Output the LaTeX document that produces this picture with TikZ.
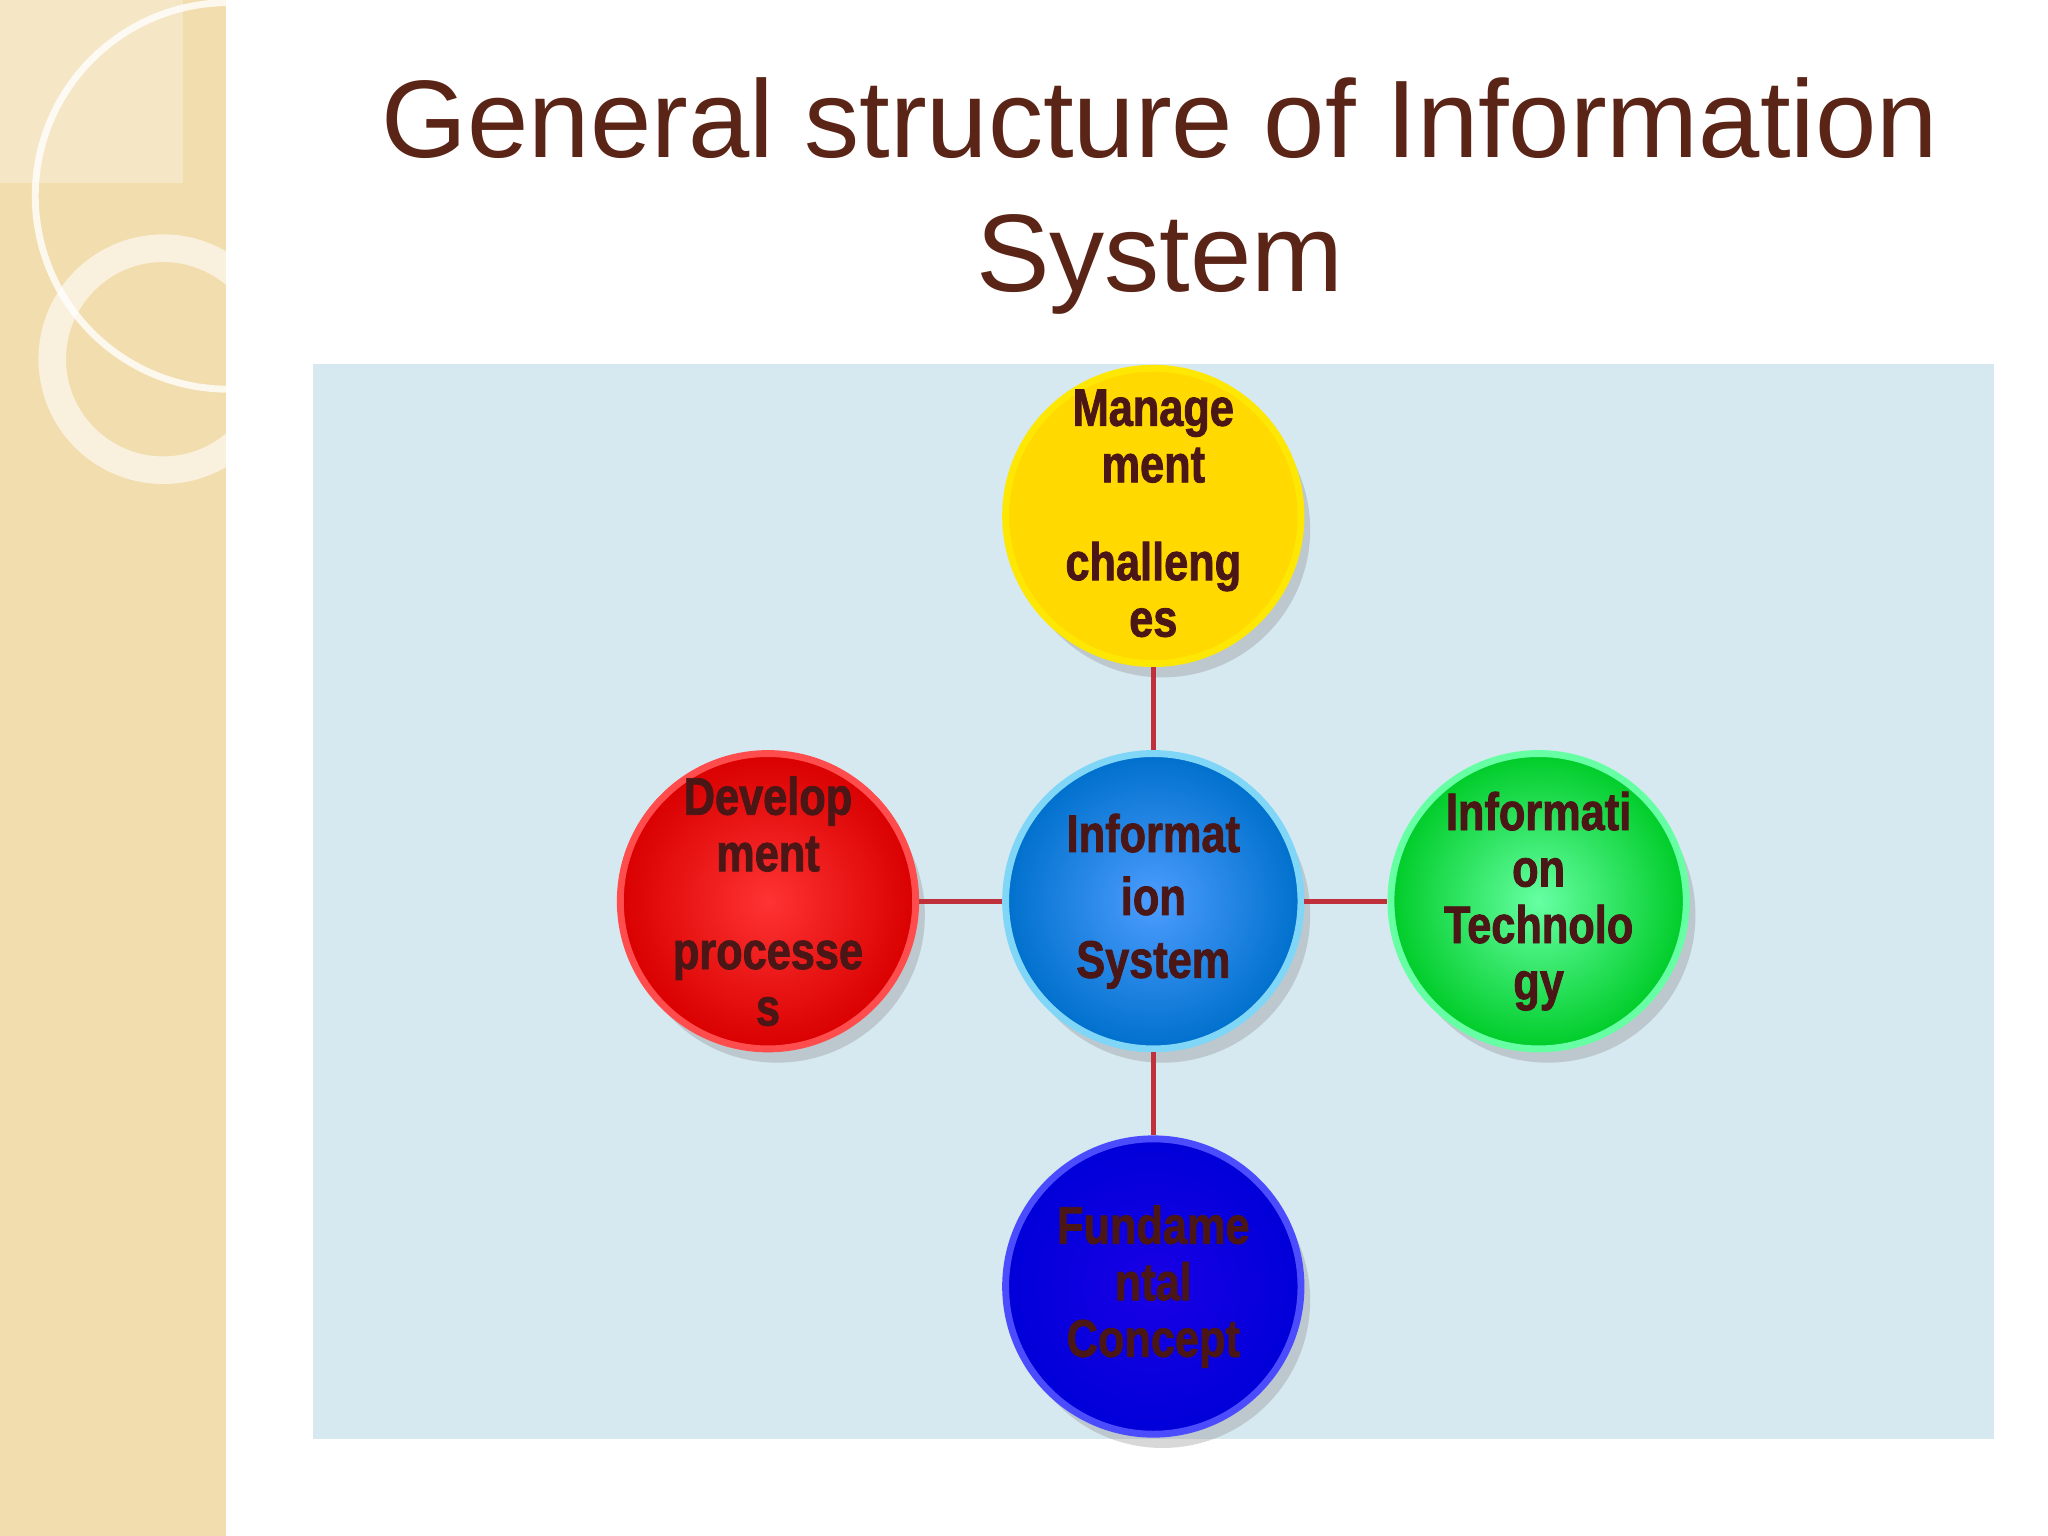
\documentclass[tikz,border=0pt]{standalone}
\usepackage{fontspec}
\setmainfont{Liberation Sans}
\newfontfamily\impactf[FakeStretch=0.82,FakeBold=1.5]{Liberation Sans Bold}
\usetikzlibrary{shadows}
\definecolor{titlec}{HTML}{5A2416}
\definecolor{txtc}{HTML}{4A1616}
\definecolor{panel}{HTML}{D6E8F0}
\definecolor{strip}{HTML}{F2DDAE}
\definecolor{linec}{HTML}{C0303A}
\tikzset{
  bub/.style={circle,minimum size=2.26cm,inner sep=0pt,line width=1.5pt,
    drop shadow={shadow xshift=2pt,shadow yshift=-3pt,opacity=0.3}},
  conn/.style={draw=linec,line width=1.1pt},
  btxt/.style={text=txtc,align=center,font=\impactf\fontsize{11.5}{12.3}\selectfont}
}
\begin{document}
\begin{tikzpicture}[x=0.01cm,y=-0.01cm]
\useasboundingbox (0,0) rectangle (1568,1176);
\fill[white] (0,0) rectangle (1568,1176);
\fill[strip] (0,0) rectangle (173,1176);
\begin{scope}
\clip (0,0) rectangle (173,1176);
\fill[white,opacity=0.3] (0,0) rectangle (140,140);
\draw[white,opacity=0.8,line width=1.5pt] (175,150) circle (148);
\draw[white,opacity=0.6,line width=6pt] (125,275) circle (85);
\end{scope}
\node[text=titlec,font=\fontsize{24}{29}\selectfont,align=center] (title) at (888,150)
  {General structure of Information\\System};
\fill[panel] (240,279) rectangle (1527,1102);
\coordinate (c) at (883,690);
\node[bub,shading=radial,inner color=yellow!70!orange,outer color=orange!30!yellow,draw=yellow!90!orange] (top) at (883,395) {};
\node[bub,shading=radial,inner color=cyan!45!blue!70,outer color=cyan!55!blue!80!black,draw=cyan!50] (mid) at (c) {};
\node[bub,shading=radial,inner color=red!80,outer color=red!85!black,draw=red!70] (left) at (588,690) {};
\node[bub,shading=radial,inner color=green!60!cyan!60,outer color=green!80!cyan!80!black,draw=green!60!cyan!60] (right) at (1178,690) {};
\node[bub,shading=radial,inner color=blue!80!violet,outer color=blue!85!black,draw=blue!70] (bot) at (883,985) {};
\draw[conn] (top) -- (mid);
\draw[conn] (mid) -- (bot);
\draw[conn] (left) -- (mid);
\draw[conn] (mid) -- (right);
\node[btxt] (ttop) at (883,393) {Manage\\ment\\[9pt]challeng\\es};
\node[btxt,font=\impactf\fontsize{11.5}{13.7}\selectfont] (tmid) at (883,690) {Informat\\ion\\System};
\node[btxt] (tleft) at (588,690) {Develop\\ment\\[9pt]processe\\s};
\node[btxt] (tright) at (1178,690) {Informati\\on\\Technolo\\gy};
\node[btxt] (tbot) at (883,985) {Fundame\\ntal\\Concept};
\end{tikzpicture}
\end{document}
